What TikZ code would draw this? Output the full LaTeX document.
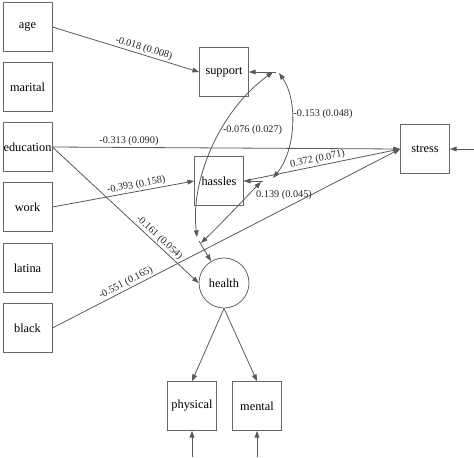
\documentclass[tikz,border=0pt]{standalone}
\usepackage{fontspec}
\setmainfont{Liberation Serif}
\usetikzlibrary{arrows.meta}
\tikzset{
  obsbox/.style={draw=black!60, line width=0.6pt, minimum width=36.75pt, minimum height=36.75pt, inner sep=0pt, font=\fontsize{9.25}{11}\selectfont},
  latcirc/.style={obsbox, circle, minimum size=37.5pt},
  regarrow/.style={draw=black!65, line width=0.6pt, -{Triangle[length=5pt,width=3.6pt]}},
  covarrow/.style={draw=black!65, line width=0.6pt, {Triangle[length=5pt,width=3.6pt]}-{Triangle[length=5pt,width=3.6pt]}},
  coeflabel/.style={font=\fontsize{7.7}{9}\selectfont, inner sep=1pt, text=black!85},
}
\begin{document}
\begin{tikzpicture}[x=0.75pt,y=-0.75pt]
\useasboundingbox (0,0) rectangle (474,457);
% Variables de gauche
\node[obsbox] (age) at (27.5,27) {age};
\node[obsbox] (marital) at (27.5,87) {marital};
\node[obsbox] (education) at (27.5,147) {education};
\node[obsbox] (work) at (27.5,207) {work};
\node[obsbox] (latina) at (27.5,268) {latina};
\node[obsbox] (black) at (27.5,328) {black};
% Mediateurs
\node[obsbox] (support) at (224,72) {support};
\node[obsbox] (hassles) at (219,181) {hassles};
\node[latcirc] (health) at (224,283) {health};
% Stress
\node[obsbox] (stress) at (425,149) {stress};
\coordinate (estress) at (474,149);
\draw[regarrow] (estress) -- (stress.east);
% Indicateurs
\node[obsbox] (physical) at (192,406) {physical};
\node[obsbox] (mental) at (257,406) {mental};
\coordinate (ephys) at (192,457);
\coordinate (ement) at (257,457);
\draw[regarrow] (ephys) -- (physical.south);
\draw[regarrow] (ement) -- (mental.south);
\draw[regarrow] (health.south) -- (physical.north);
\draw[regarrow] (health.south) -- (mental.north);
% Regressions
\draw[regarrow] (age.east) -- node[coeflabel, sloped, above, pos=0.61] {-0.018 (0.008)} (support.west);
\draw[regarrow] (education.east) -- node[coeflabel, sloped, above, pos=0.22] {-0.313 (0.090)} (stress.west);
\draw[regarrow] (education.east) -- node[coeflabel, sloped, above, pos=0.7] {-0.161 (0.054)} (health.west);
\draw[regarrow] (work.east) -- node[coeflabel, sloped, above, pos=0.6] {-0.393 (0.158)} (hassles.west);
\draw[regarrow] (black.east) -- node[coeflabel, sloped, above, pos=0.22] {-0.551 (0.165)} (stress.west);
\draw[regarrow] (hassles.east) -- node[coeflabel, sloped, above, pos=0.48] {0.372 (0.071)} (stress.west);
% Covariances
\coordinate (jsup) at (276,72);
\coordinate (jhas) at (263,181);
\coordinate (jhea) at (199,241);
\draw[regarrow] (jsup) -- (support.east);
\draw[regarrow] (jhas) -- (hassles.east);
\draw[regarrow] (jhea) -- (health);
\coordinate (sup1) at (273,72);
\coordinate (sup2) at (279,73);
\coordinate (has1) at (261,182);
\coordinate (has2) at (273,178);
\coordinate (hea1) at (197,237);
\coordinate (hea2) at (201,243);
\draw[covarrow] (sup1) .. controls (220,110) and (190,180) .. node[coeflabel, pos=0.4, right] {-0.076 (0.027)} (hea1);
\draw[covarrow] (sup2) .. controls (298,100) and (296,150) .. node[coeflabel, pos=0.4, right] {-0.153 (0.048)} (has2);
\draw[covarrow] (has1) .. controls (248,195) and (225,220) .. node[coeflabel, pos=0.15, anchor=north west] {0.139 (0.045)} (hea2);
\end{tikzpicture}
\end{document}
